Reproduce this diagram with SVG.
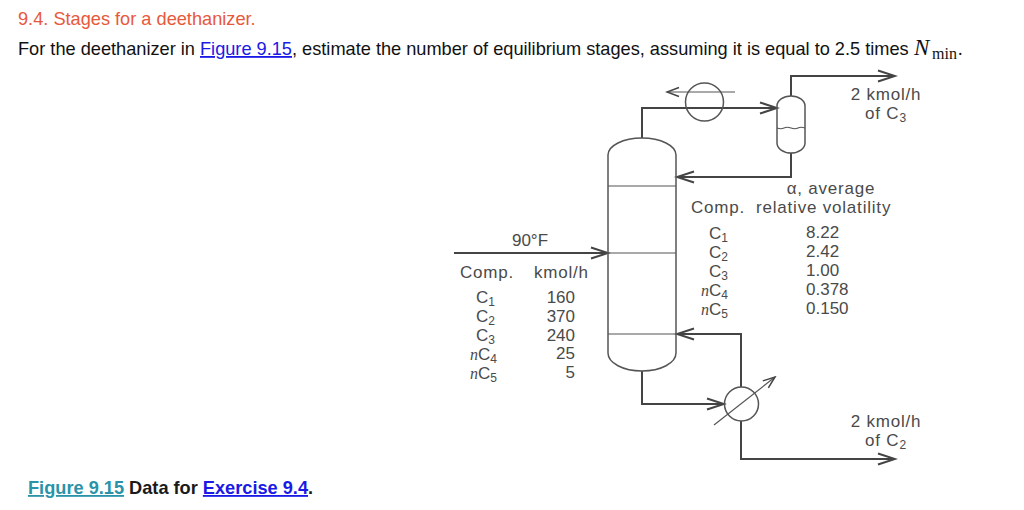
<svg xmlns="http://www.w3.org/2000/svg" width="1024" height="510" viewBox="0 0 1024 510">
<defs>
<marker id="ah" markerUnits="userSpaceOnUse" markerWidth="22" markerHeight="14" refX="19" refY="7" orient="auto"><path d="M2 1.5 L19 7 L2 12.5" fill="none" stroke="#444" stroke-width="2"/></marker>
<marker id="ahs" markerUnits="userSpaceOnUse" markerWidth="16" markerHeight="12" refX="14" refY="6" orient="auto"><path d="M2 1.500 L14 6 L2 10.500" fill="none" stroke="#444" stroke-width="1.500"/></marker>
</defs>
<style>
text{font-family:"Liberation Sans",Arial,sans-serif}
.h{font-size:18.2px;fill:#111}
.t{font-size:17px;letter-spacing:.8px;fill:#4a4a4a}
.n{font-size:17px;fill:#4a4a4a}
.s{font-size:12px}
.m{text-anchor:middle}
.e{text-anchor:end}
.i{font-family:"Liberation Serif",serif;font-style:italic;font-size:16px}
.v{fill:none;stroke:#555;stroke-width:1.5}
.f{fill:none;stroke:#444;stroke-width:2}
.l{fill:none;stroke:#555;stroke-width:1.2}
.c{font-size:18.2px;font-weight:bold}
.ms{font-family:"Liberation Serif",serif;fill:#111}
</style>
<rect width="1024" height="510" fill="#fff"/>
<g id="heading">
<text x="18" y="25" style="font-size:18.2px;fill:#e8583c">9.4. Stages for a deethanizer.</text>
<text x="18" y="55" class="h">For the deethanizer in <tspan fill="#1a1ae6" text-decoration="underline">Figure 9.15</tspan>, estimate the number of equilibrium stages, assuming it is equal to 2.5 times</text>
<text x="914" y="55" class="ms" style="font-size:23px;font-style:italic">N</text>
<text x="932" y="59" class="ms" style="font-size:16px">min</text>
<text x="958" y="55" class="ms" style="font-size:18px">.</text>
</g>
<g id="connectors">
<path class="f" d="M642 138V108H777" marker-end="url(#ah)"/>
<path class="l" d="M735 92H667" marker-end="url(#ahs)"/>
<path class="f" d="M791 96V76H895" marker-end="url(#ah)"/>
<path class="f" d="M791 153V177H677" marker-end="url(#ah)"/>
<path class="f" d="M454 253H608" marker-end="url(#ah)"/>
<path class="f" d="M741 387V334H677" marker-end="url(#ah)"/>
<path class="f" d="M642 371V404H724" marker-end="url(#ah)"/>
<path class="f" d="M741 421V459H895" marker-end="url(#ah)"/>
<path class="l" d="M714 425L775 377" marker-end="url(#ahs)"/>
</g>
<g id="column">
<path class="v" d="M608 155A34 17 0 0 1 676 155V353A34 18 0 0 1 608 353Z"/>
<path class="l" d="M608 186H676M608 253H676M608 334H676"/>
</g>
<g id="condenser"><circle class="v" cx="704.500" cy="102" r="19"/></g>
<g id="drum">
<path class="v" d="M777 106A14 10 0 0 1 805 106V143A14 10 0 0 1 777 143Z"/>
<path class="l" d="M777 128Q781 129.500 784 128T791 128T798 128T805 128"/>
</g>
<g id="reboiler"><circle class="v" cx="741.500" cy="404" r="17"/></g>
<g id="top-product">
<text x="886" y="100" class="t m">2 kmol/h</text>
<text x="886" y="119" class="t m">of C<tspan class="s" dy="3">3</tspan></text>
</g>
<g id="bottom-product">
<text x="886" y="427" class="t m">2 kmol/h</text>
<text x="886" y="446" class="t m">of C<tspan class="s" dy="3">2</tspan></text>
</g>
<g id="feed-table">
<text x="530" y="246" class="n m">90°F</text>
<text x="460" y="278" class="t">Comp.</text>
<text x="534" y="278" class="t">kmol/h</text>
<text x="495" y="303" class="n e">C<tspan class="s" dy="3">1</tspan></text>
<text x="495" y="322" class="n e">C<tspan class="s" dy="3">2</tspan></text>
<text x="495" y="341" class="n e">C<tspan class="s" dy="3">3</tspan></text>
<text x="497" y="360" class="n e"><tspan class="i">n</tspan>C<tspan class="s" dy="3">4</tspan></text>
<text x="497" y="379" class="n e"><tspan class="i">n</tspan>C<tspan class="s" dy="3">5</tspan></text>
<text x="575" y="303" class="n e">160</text>
<text x="575" y="322" class="n e">370</text>
<text x="575" y="341" class="n e">240</text>
<text x="575" y="359" class="n e">25</text>
<text x="575" y="378" class="n e">5</text>
</g>
<g id="volatility-table">
<text x="831" y="194" class="t m">α, average</text>
<text x="691" y="213" class="t">Comp.</text>
<text x="756" y="213" class="t">relative volatility</text>
<text x="728" y="239" class="n e">C<tspan class="s" dy="3">1</tspan></text>
<text x="728" y="258" class="n e">C<tspan class="s" dy="3">2</tspan></text>
<text x="728" y="277" class="n e">C<tspan class="s" dy="3">3</tspan></text>
<text x="728" y="296" class="n e"><tspan class="i">n</tspan>C<tspan class="s" dy="3">4</tspan></text>
<text x="728" y="315" class="n e"><tspan class="i">n</tspan>C<tspan class="s" dy="3">5</tspan></text>
<text x="806" y="238" class="n">8.22</text>
<text x="806" y="257" class="n">2.42</text>
<text x="806" y="276" class="n">1.00</text>
<text x="806" y="295" class="n">0.378</text>
<text x="806" y="314" class="n">0.150</text>
</g>
<g id="caption">
<text x="28" y="494" class="c" fill="#1a1a1a"><tspan fill="#2a93a8" text-decoration="underline">Figure 9.15</tspan> Data for <tspan fill="#1a1ae6" text-decoration="underline">Exercise 9.4</tspan>.</text>
</g>
</svg>
